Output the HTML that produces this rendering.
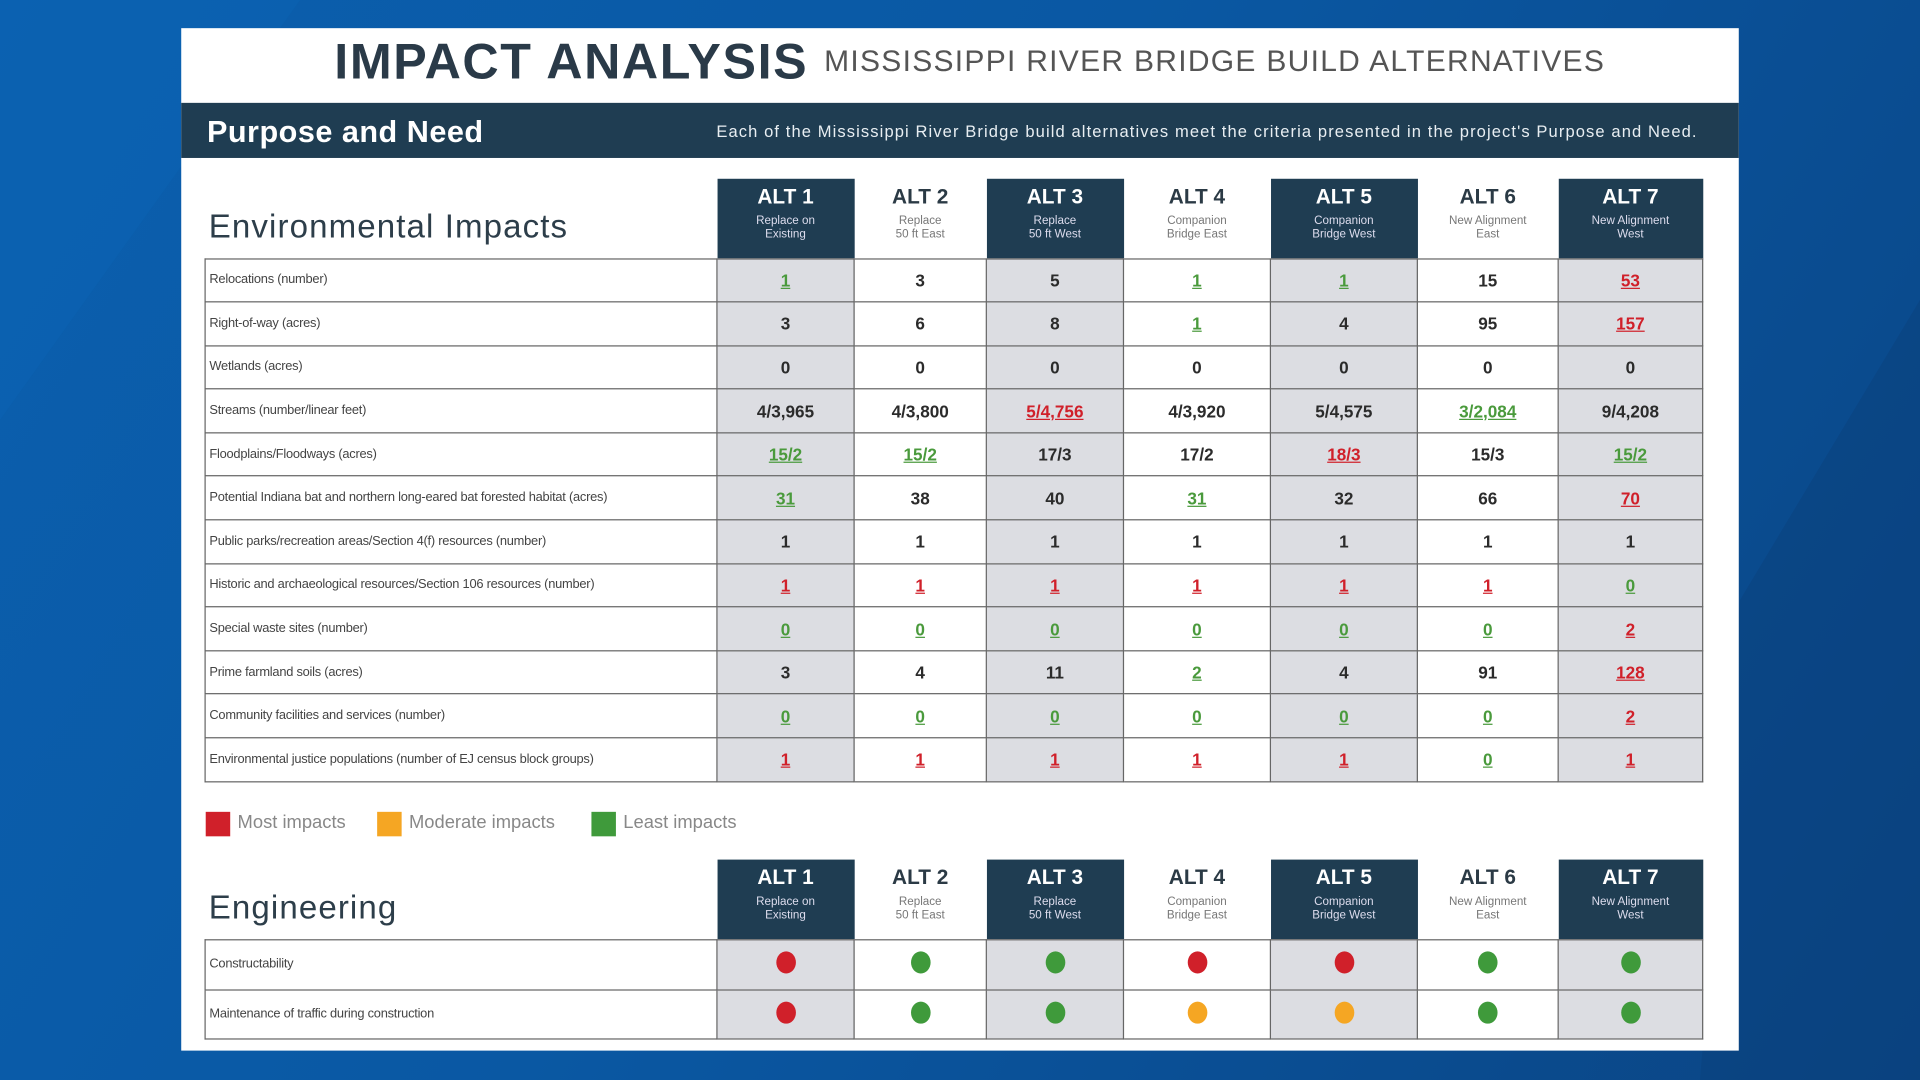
<!DOCTYPE html>
<html><head><meta charset="utf-8"><style>
html,body{margin:0;padding:0;width:1920px;height:1080px;overflow:hidden;font-family:"Liberation Sans",sans-serif}
#bg{position:absolute;left:0;top:0;width:1920px;height:1080px;background:linear-gradient(120deg,#0b5fae 0%,#0a58a3 45%,#0a4f95 70%,#0b4584 100%)}
#s{position:absolute;left:0;top:0;width:1568px;height:882px;transform:scale(1.22449);transform-origin:0 0}
.a{position:absolute}
.panel{left:148px;top:23px;width:1272px;height:835px;background:#fff}
.band{left:148px;top:84px;width:1272px;height:45px;background:#1f3d52}
table{border-collapse:collapse;position:absolute;left:167px;table-layout:fixed}
td{border:1.3px solid #666;text-align:center;font-weight:bold;font-size:14px;color:#2b2b2b;padding:0}
td.l{text-align:left;font-weight:normal;font-size:10.5px;color:#444;padding-left:3px;line-height:11px;letter-spacing:-0.2px}
td.g{background:#dcdde2}
.r{color:#d0202a;text-decoration:underline}
.gr{color:#4a9a3c;text-decoration:underline}
.hd td{border:none;vertical-align:top;font-size:17px;color:#2b3a45;padding-top:6px;line-height:18px}
.hd td.d{background:#1f3d52;color:#fff}
.hd td small{display:block;font-size:9.5px;font-weight:normal;line-height:11px;color:#777;margin-top:5px}
.hd td.d small{color:#dde}
.hd td.t{text-align:left;font-weight:normal;font-size:27px;letter-spacing:0.9px;vertical-align:middle;padding-top:14px;padding-left:3px;color:#2d3e4a}
.dot{display:inline-block;width:16px;height:18px;border-radius:50%}
</style></head><body><div id="bg">
<svg width="1920" height="1080" style="position:absolute;left:0;top:0"><polygon points="0,0 300,0 0,420" fill="#0c66b8" opacity=".35"/><polygon points="1740,600 1920,300 1920,1080 1700,1080" fill="#0a3f78" opacity=".4"/></svg></div>
<div id="s">
<div class="a panel"></div>
<div class="a" style="left:273px;top:27px;font-size:41px;font-weight:bold;color:#2a3a48;letter-spacing:1.3px">IMPACT ANALYSIS</div>
<div class="a" style="left:673px;top:37px;font-size:24.5px;color:#555;letter-spacing:1.05px">MISSISSIPPI RIVER BRIDGE BUILD ALTERNATIVES</div>
<div class="a band"></div>
<div class="a" style="left:169px;top:94px;font-size:25px;font-weight:bold;color:#fff;letter-spacing:0.4px">Purpose and Need</div>
<div class="a" style="left:585px;top:100px;font-size:13.5px;color:#e8eef2;letter-spacing:0.9px">Each of the Mississippi River Bridge build alternatives meet the criteria presented in the project's Purpose and Need.</div>

<table style="top:146px">
<colgroup><col style="width:418px"><col style="width:112px"><col style="width:108px"><col style="width:112px"><col style="width:120px"><col style="width:120px"><col style="width:115px"><col style="width:118px"></colgroup>
<tr class="hd" style="height:65px"><td class="t">Environmental Impacts</td><td class="d">ALT 1<small>Replace on<br>Existing</small></td><td>ALT 2<small>Replace<br>50 ft East</small></td><td class="d">ALT 3<small>Replace<br>50 ft West</small></td><td>ALT 4<small>Companion<br>Bridge East</small></td><td class="d">ALT 5<small>Companion<br>Bridge West</small></td><td>ALT 6<small>New Alignment<br>East</small></td><td class="d">ALT 7<small>New Alignment<br>West</small></td></tr>
<tr style="height:35.6px"><td class="l">Relocations (number)</td><td class="g"><span class="gr">1</span></td><td>3</td><td class="g">5</td><td><span class="gr">1</span></td><td class="g"><span class="gr">1</span></td><td>15</td><td class="g"><span class="r">53</span></td></tr>
<tr style="height:35.6px"><td class="l">Right-of-way (acres)</td><td class="g">3</td><td>6</td><td class="g">8</td><td><span class="gr">1</span></td><td class="g">4</td><td>95</td><td class="g"><span class="r">157</span></td></tr>
<tr style="height:35.6px"><td class="l">Wetlands (acres)</td><td class="g">0</td><td>0</td><td class="g">0</td><td>0</td><td class="g">0</td><td>0</td><td class="g">0</td></tr>
<tr style="height:35.6px"><td class="l">Streams (number/linear feet)</td><td class="g">4/3,965</td><td>4/3,800</td><td class="g"><span class="r">5/4,756</span></td><td>4/3,920</td><td class="g">5/4,575</td><td><span class="gr">3/2,084</span></td><td class="g">9/4,208</td></tr>
<tr style="height:35.6px"><td class="l">Floodplains/Floodways (acres)</td><td class="g"><span class="gr">15/2</span></td><td><span class="gr">15/2</span></td><td class="g">17/3</td><td>17/2</td><td class="g"><span class="r">18/3</span></td><td>15/3</td><td class="g"><span class="gr">15/2</span></td></tr>
<tr style="height:35.6px"><td class="l">Potential Indiana bat and northern long-eared bat forested habitat (acres)</td><td class="g"><span class="gr">31</span></td><td>38</td><td class="g">40</td><td><span class="gr">31</span></td><td class="g">32</td><td>66</td><td class="g"><span class="r">70</span></td></tr>
<tr style="height:35.6px"><td class="l">Public parks/recreation areas/Section 4(f) resources (number)</td><td class="g">1</td><td>1</td><td class="g">1</td><td>1</td><td class="g">1</td><td>1</td><td class="g">1</td></tr>
<tr style="height:35.6px"><td class="l">Historic and archaeological resources/Section 106 resources (number)</td><td class="g"><span class="r">1</span></td><td><span class="r">1</span></td><td class="g"><span class="r">1</span></td><td><span class="r">1</span></td><td class="g"><span class="r">1</span></td><td><span class="r">1</span></td><td class="g"><span class="gr">0</span></td></tr>
<tr style="height:35.6px"><td class="l">Special waste sites (number)</td><td class="g"><span class="gr">0</span></td><td><span class="gr">0</span></td><td class="g"><span class="gr">0</span></td><td><span class="gr">0</span></td><td class="g"><span class="gr">0</span></td><td><span class="gr">0</span></td><td class="g"><span class="r">2</span></td></tr>
<tr style="height:35.6px"><td class="l">Prime farmland soils (acres)</td><td class="g">3</td><td>4</td><td class="g">11</td><td><span class="gr">2</span></td><td class="g">4</td><td>91</td><td class="g"><span class="r">128</span></td></tr>
<tr style="height:35.6px"><td class="l">Community facilities and services (number)</td><td class="g"><span class="gr">0</span></td><td><span class="gr">0</span></td><td class="g"><span class="gr">0</span></td><td><span class="gr">0</span></td><td class="g"><span class="gr">0</span></td><td><span class="gr">0</span></td><td class="g"><span class="r">2</span></td></tr>
<tr style="height:35.6px"><td class="l">Environmental justice populations (number of EJ census block groups)</td><td class="g"><span class="r">1</span></td><td><span class="r">1</span></td><td class="g"><span class="r">1</span></td><td><span class="r">1</span></td><td class="g"><span class="r">1</span></td><td><span class="gr">0</span></td><td class="g"><span class="r">1</span></td></tr>
</table>

<div class="a" style="left:168px;top:663px;width:20px;height:20px;background:#d0202a"></div>
<div class="a" style="left:194px;top:663px;font-size:15px;color:#888">Most impacts</div>
<div class="a" style="left:308px;top:663px;width:20px;height:20px;background:#f5a623"></div>
<div class="a" style="left:334px;top:663px;font-size:15px;color:#888">Moderate impacts</div>
<div class="a" style="left:483px;top:663px;width:20px;height:20px;background:#3f9a3b"></div>
<div class="a" style="left:509px;top:663px;font-size:15px;color:#888">Least impacts</div>

<table style="top:702px">
<colgroup><col style="width:418px"><col style="width:112px"><col style="width:108px"><col style="width:112px"><col style="width:120px"><col style="width:120px"><col style="width:115px"><col style="width:118px"></colgroup>
<tr class="hd" style="height:65px"><td class="t">Engineering</td><td class="d">ALT 1<small>Replace on<br>Existing</small></td><td>ALT 2<small>Replace<br>50 ft East</small></td><td class="d">ALT 3<small>Replace<br>50 ft West</small></td><td>ALT 4<small>Companion<br>Bridge East</small></td><td class="d">ALT 5<small>Companion<br>Bridge West</small></td><td>ALT 6<small>New Alignment<br>East</small></td><td class="d">ALT 7<small>New Alignment<br>West</small></td></tr>
<tr style="height:41px"><td class="l">Constructability</td><td class="g"><span class="dot" style="background:#d0202a"></span></td><td><span class="dot" style="background:#3f9a3b"></span></td><td class="g"><span class="dot" style="background:#3f9a3b"></span></td><td><span class="dot" style="background:#d0202a"></span></td><td class="g"><span class="dot" style="background:#d0202a"></span></td><td><span class="dot" style="background:#3f9a3b"></span></td><td class="g"><span class="dot" style="background:#3f9a3b"></span></td></tr>
<tr style="height:40px"><td class="l">Maintenance of traffic during construction</td><td class="g"><span class="dot" style="background:#d0202a"></span></td><td><span class="dot" style="background:#3f9a3b"></span></td><td class="g"><span class="dot" style="background:#3f9a3b"></span></td><td><span class="dot" style="background:#f5a623"></span></td><td class="g"><span class="dot" style="background:#f5a623"></span></td><td><span class="dot" style="background:#3f9a3b"></span></td><td class="g"><span class="dot" style="background:#3f9a3b"></span></td></tr>
</table>
</div></body></html>
